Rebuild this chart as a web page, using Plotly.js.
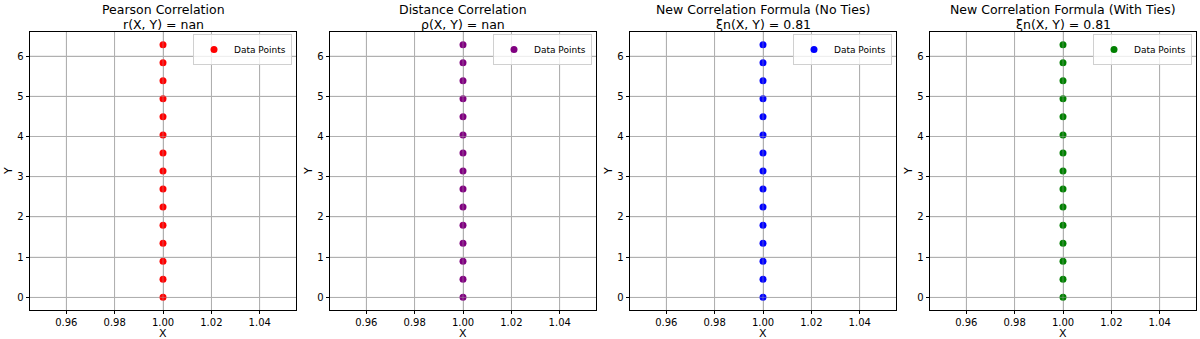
<!DOCTYPE html>
<html><head><meta charset="utf-8">
<script src="https://cdn.plot.ly/plotly-3.0.1.min.js"></script>
<style>html,body{margin:0;padding:0;background:#fff}#chart{width:1200px;height:339px}</style>
</head><body><div id="chart"></div>
<script>
const xValues = [1,1,1,1,1,1,1,1,1,1,1,1,1,1,1];
const yValues = [0, 0.449, 0.898, 1.346, 1.795, 2.244, 2.693, 3.142, 3.590, 4.039, 4.488, 4.937, 5.386, 5.834, 6.283];
const titlesLine1 = ["Pearson Correlation", "Distance Correlation", "New Correlation Formula (No Ties)", "New Correlation Formula (With Ties)"];
const titlesLine2 = ["r(X, Y) = nan", "ρ(X, Y) = nan", "ξn(X, Y) = 0.81", "ξn(X, Y) = 0.81"];
const colors = ["#ff0000", "#800080", "#0000ff", "#008000"];
const seriesName = "Data Points";
const xTicks = [0.96, 0.98, 1.00, 1.02, 1.04];
const xTickText = ["0.96", "0.98", "1.00", "1.02", "1.04"];
const yTicks = [0, 1, 2, 3, 4, 5, 6];
const xLabel = "X", yLabel = "Y";

const W = 1200, H = 339;
const panelLeft = [30, 330, 630, 930];
const panelW = 266;
const plotTop = 32, plotBottom = 310;
const fontFam = "DejaVu Sans, sans-serif";
const gridColor = "#b0b0b0";

const data = [];
const layout = {
  width: W, height: H,
  margin: {l:0, r:0, t:0, b:0},
  paper_bgcolor: "#fff", plot_bgcolor: "#fff",
  showlegend: true,
  font: {family: fontFam, color: "#000", size: 10},
  annotations: [],
  shapes: []
};
for (let i = 0; i < 4; i++) {
  const ax = i === 0 ? "" : String(i + 1);
  const lg = i === 0 ? "legend" : "legend" + (i + 1);
  data.push({
    type: "scatter", mode: "markers",
    x: xValues, y: yValues,
    xaxis: "x" + ax, yaxis: "y" + ax,
    name: seriesName, legend: lg,
    marker: {color: colors[i], size: 7, line: {width: 0}},
    cliponaxis: false
  });
  const x0 = panelLeft[i] / W, x1 = (panelLeft[i] + panelW) / W;
  const cx = (panelLeft[i] + panelW / 2) / W;
  layout["xaxis" + ax] = {
    domain: [x0, x1], anchor: "y" + ax,
    range: [0.945, 1.055],
    tickvals: xTicks, ticktext: xTickText,
    ticks: "outside", ticklen: 3, tickcolor: "#000", tickwidth: 1,
    showgrid: true, gridcolor: gridColor, gridwidth: 1,
    zeroline: false,
    showline: true, linecolor: "#000", linewidth: 1, mirror: true,
    tickfont: {family: fontFam, size: 10, color: "#000"}
  };
  layout["yaxis" + ax] = {
    domain: [(H - plotBottom) / H, (H - plotTop) / H], anchor: "x" + ax,
    range: [-0.314, 6.597],
    tickvals: yTicks,
    ticks: "outside", ticklen: 3.5, tickcolor: "#000", tickwidth: 1,
    showgrid: true, gridcolor: gridColor, gridwidth: 1,
    zeroline: false,
    showline: true, linecolor: "#000", linewidth: 1, mirror: true,
    tickfont: {family: fontFam, size: 10, color: "#000"}
  };
  // grid drawn over the markers, as in the reference (semi-transparent overlay)
  xTicks.forEach(v => layout.shapes.push({
    type: "line", layer: "above", xref: "x" + ax, yref: "y" + ax + " domain",
    x0: v, x1: v, y0: 0, y1: 1, line: {color: gridColor, width: 1}, opacity: 0.45
  }));
  yTicks.forEach(v => layout.shapes.push({
    type: "line", layer: "above", xref: "x" + ax + " domain", yref: "y" + ax,
    x0: 0, x1: 1, y0: v, y1: v, line: {color: gridColor, width: 1}, opacity: 0.45
  }));
  layout[lg] = {
    x: (panelLeft[i] + panelW - 4) / W, y: (H - plotTop - 2) / H,
    xanchor: "right", yanchor: "top", xref: "paper", yref: "paper",
    bgcolor: "rgba(255,255,255,0.8)", bordercolor: "#d0d0d0", borderwidth: 1,
    font: {family: fontFam, size: 9, color: "#000"},
    itemwidth: 30, tracegroupgap: 0
  };
  layout.annotations.push({
    xref: "paper", yref: "paper", x: cx, y: (H - 10) / H,
    xanchor: "center", yanchor: "middle", text: titlesLine1[i], showarrow: false,
    font: {family: fontFam, size: 12.5, color: "#000"}
  });
  layout.annotations.push({
    xref: "paper", yref: "paper", x: cx, y: (H - 24) / H,
    xanchor: "center", yanchor: "middle", text: titlesLine2[i], showarrow: false,
    font: {family: fontFam, size: 12.5, color: "#000"}
  });
  layout.annotations.push({
    xref: "paper", yref: "paper", x: cx, y: (H - 333) / H,
    xanchor: "center", yanchor: "middle", text: xLabel, showarrow: false,
    font: {family: fontFam, size: 11, color: "#000"}
  });
  layout.annotations.push({
    xref: "paper", yref: "paper", x: (panelLeft[i] - 22) / W, y: (H - 171) / H,
    xanchor: "center", yanchor: "middle", text: yLabel, showarrow: false, textangle: -90,
    font: {family: fontFam, size: 11, color: "#000"}
  });
}
Plotly.newPlot("chart", data, layout, {displayModeBar: false, staticPlot: true});
</script></body></html>
